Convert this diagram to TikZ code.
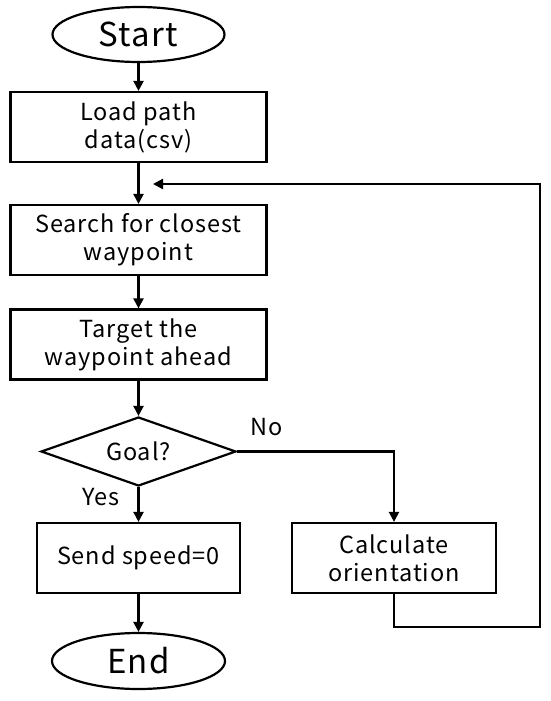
\documentclass[tikz,border=0pt]{standalone}
\usepackage{fontspec}
\setmainfont{Noto Sans CJK JP}[LetterSpace=4]
\usetikzlibrary{shapes.geometric,arrows.meta}

\tikzset{
  box/.style={draw, line width=2.2pt, rectangle, minimum height=70pt, align=center, inner sep=0pt, font=\fontsize{23.5}{28}\selectfont},
  term/.style={draw, line width=2.2pt, ellipse, minimum width=172pt, minimum height=55pt, inner sep=0pt, font=\fontsize{33}{38}\selectfont},
  decide/.style={draw, line width=2.2pt, diamond, aspect=2.8, minimum width=195pt, minimum height=69pt, inner sep=0pt, font=\fontsize{23.5}{28}\selectfont},
  flow/.style={line width=2.2pt, -{Triangle[length=10pt,width=10pt]}},
  answer/.style={font=\fontsize{23.5}{28}\selectfont}
}

\begin{document}
\begin{tikzpicture}[x=1pt,y=-1pt]
\useasboundingbox (0,0) rectangle (550,701);

\node [term] (start) at (138.5,34.5) {Start};
\node [box, minimum width=256pt] (load) at (138.5,127) {Load path\\data(csv)};
\node [box, minimum width=256pt] (search) at (138.5,240) {Search for closest\\waypoint};
\node [box, minimum width=256pt] (target) at (138.5,344.5) {Target the\\waypoint ahead};
\node [decide] (goal) at (138.5,451.5) {Goal?};
\node [box, minimum width=203pt] (send) at (138.5,558) {Send speed=0};
\node [box, minimum width=204pt] (calc) at (394,558) {Calculate\\orientation};
\node [term, minimum width=173pt, minimum height=56pt] (end) at (138.5,661) {End};

\node [answer] (no) at (267,427) {No};
\node [answer] (yes) at (101,497) {Yes};

\coordinate (turn) at (540,627);
\coordinate (loop) at (153,184);

\draw [flow] (start) -- (load);
\draw [flow] (load) -- (search);
\draw [flow] (search) -- (target);
\draw [flow] (target) -- (goal);
\draw [flow] (goal) -- (send);
\draw [flow] (goal.east) -| (calc.north);
\draw [flow] (send) -- (end);
\draw [flow] (calc.south) |- (turn) |- (loop);

\end{tikzpicture}
\end{document}
